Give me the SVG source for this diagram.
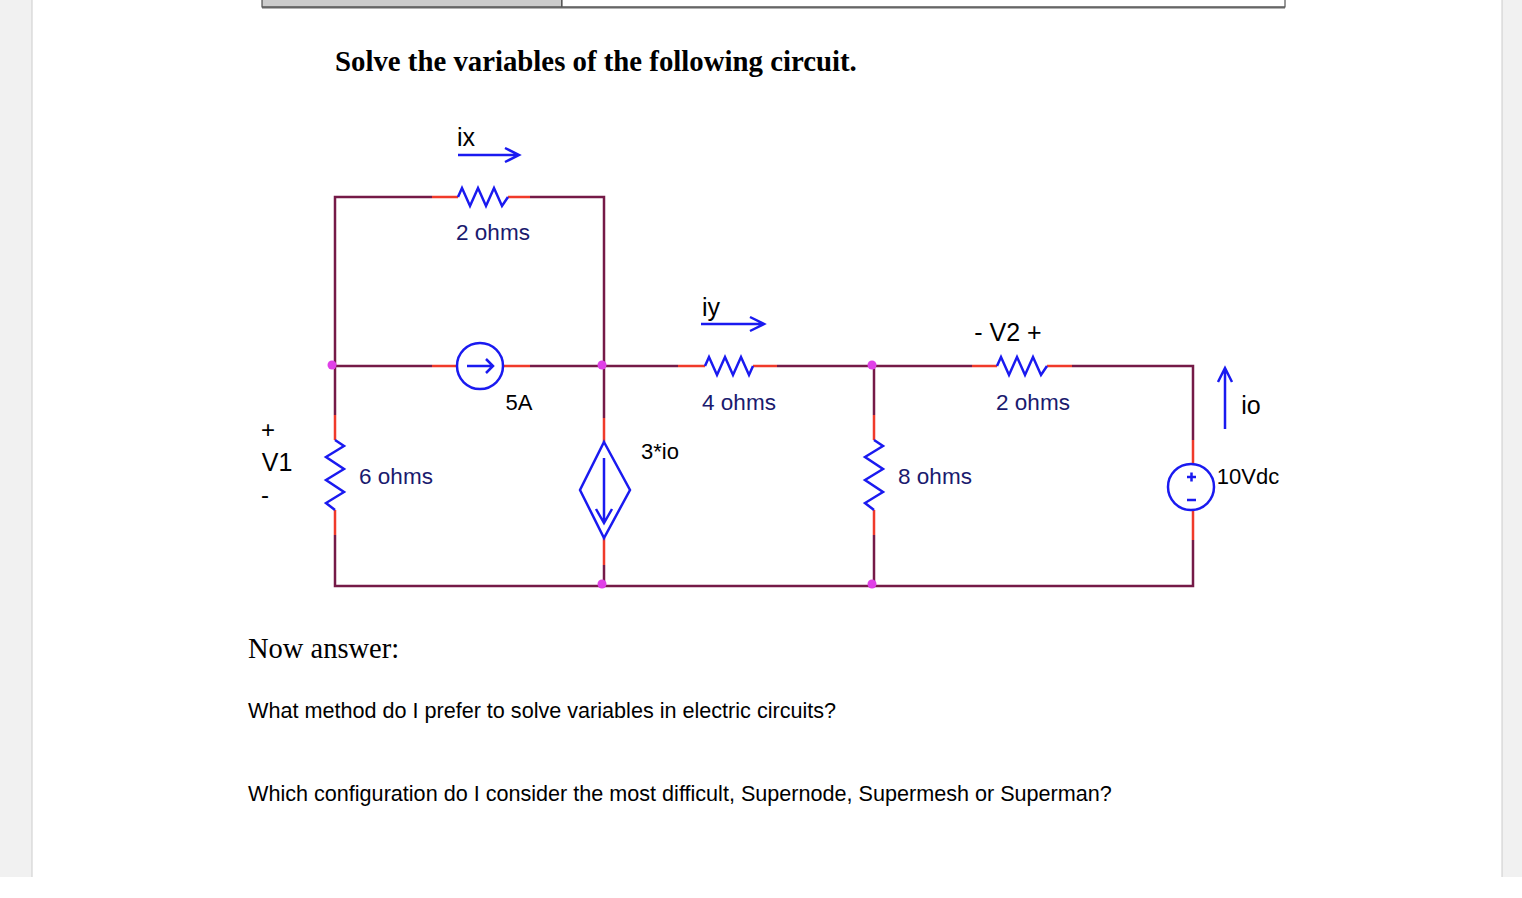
<svg xmlns="http://www.w3.org/2000/svg" width="1522" height="898" viewBox="0 0 1522 898">
<style>
.w{stroke:#751a47;stroke-width:2.5;fill:none}
.l{stroke:#f03a2a;stroke-width:2.5;fill:none}
.b{stroke:#1a1af0;stroke-width:2.5;fill:none}
.lb{font-family:"Liberation Sans",Arial,sans-serif;font-size:22.5px;fill:#1a1a6e}
.k{font-family:"Liberation Sans",Arial,sans-serif;fill:#000}
.d{fill:#e040e8}
</style>
<rect width="1522" height="898" fill="#fff"/>
<rect x="0" y="0" width="32" height="877" fill="#f1f1f1"/>
<rect x="1502" y="0" width="20" height="877" fill="#f1f1f1"/>
<line x1="32" y1="0" x2="32" y2="877" stroke="#ccc"/>
<line x1="1502" y1="0" x2="1502" y2="877" stroke="#ccc"/>
<rect x="262" y="-2" width="300" height="9" fill="#ccc" stroke="#333"/>
<rect x="562" y="-2" width="723" height="9" fill="#fff" stroke="#333"/>
<line x1="262" y1="7.5" x2="1285" y2="7.5" stroke="#666" stroke-width="2"/>
<text x="335" y="71" font-family="Liberation Serif,serif" font-weight="bold" font-size="28.8">Solve the variables of the following circuit.</text>
<g id="wires">
<path class="w" d="M432 197H335V415M335 535V586H604V565M604 418V197H530M335 366H432M530 366H678M777 366H972M1072 366H1193V440M1193 540V586H874V535M874 415V366M604 586H874"/>
</g>
<g id="r_top"><path class="l" d="M432 197H458M508 197H530"/><path class="b" d="M458 197l4-9 8 18 8-18 8 18 8-18 8 18 6-9"/><text class="lb" x="493" y="240" text-anchor="middle">2 ohms</text></g>
<g id="ix"><text class="k" x="466" y="146" font-size="25" text-anchor="middle">ix</text><path class="b" d="M458 155H519M505 148l14 7-14 7"/></g>
<g id="isrc"><path class="l" d="M432 366H457M504 366H530"/><circle class="b" cx="480" cy="366" r="23"/><path class="b" d="M467 366H493M486 359l7 7-7 7"/><text class="k" x="519" y="410" font-size="22" text-anchor="middle">5A</text></g>
<g id="r4"><path class="l" d="M678 366H705M753 366H777"/><path class="b" d="M705 366l4-9 8 18 8-18 8 18 8-18 8 18 4-9"/><text class="lb" x="739" y="410" text-anchor="middle">4 ohms</text></g>
<g id="iy"><text class="k" x="711" y="316" font-size="25" text-anchor="middle">iy</text><path class="b" d="M701 324H764M750 317l14 7-14 7"/></g>
<g id="r2"><path class="l" d="M972 366H997M1047 366H1072"/><path class="b" d="M997 366l4-9 8 18 8-18 8 18 8-18 8 18 6-9"/><text class="lb" x="1033" y="410" text-anchor="middle">2 ohms</text><text class="k" x="1008" y="341" font-size="25" text-anchor="middle">- V2 +</text></g>
<g id="r6"><path class="l" d="M335 415V440M335 510V535"/><path class="b" d="M335 440l9 6-18 11 18 12-18 11 18 12-18 11 9 7"/><text class="lb" x="396" y="484" text-anchor="middle">6 ohms</text><text class="k" x="268" y="438" font-size="24" text-anchor="middle">+</text><text class="k" x="277" y="471" font-size="25" text-anchor="middle">V1</text><text class="k" x="265" y="503" font-size="24" text-anchor="middle">-</text></g>
<g id="dep"><path class="l" d="M604 418V442M604 538V565"/><path class="b" d="M604 442L630 490 604 538 580 490Z"/><path class="b" d="M604 458V523M596 509l8 14 8-14"/><text class="k" x="660" y="459" font-size="22" text-anchor="middle">3*io</text></g>
<g id="r8"><path class="l" d="M874 415V440M874 510V535"/><path class="b" d="M874 440l9 6-18 11 18 12-18 11 18 12-18 11 9 7"/><text class="lb" x="935" y="484" text-anchor="middle">8 ohms</text></g>
<g id="vsrc"><path class="l" d="M1193 440V464M1193 510V540"/><circle class="b" cx="1191" cy="487" r="23"/><path class="b" d="M1187 477h9M1191.5 472.5v9M1187 500h9" stroke-width="2"/><text class="k" x="1248" y="484" font-size="22" text-anchor="middle">10Vdc</text></g>
<g id="io"><path class="b" d="M1225 429V368M1218 382l7-14 7 14"/><text class="k" x="1251" y="414" font-size="25" text-anchor="middle">io</text></g>
<g id="dots"><circle class="d" cx="332" cy="365" r="4.5"/><circle class="d" cx="602" cy="365" r="4.5"/><circle class="d" cx="872" cy="365" r="4.5"/><circle class="d" cx="602" cy="584" r="4.5"/><circle class="d" cx="872" cy="584" r="4.5"/></g>
<text x="248" y="658" font-family="Liberation Serif,serif" font-size="28.5">Now answer:</text>
<text class="k" x="248" y="718" font-size="21.6">What method do I prefer to solve variables in electric circuits?</text>
<text class="k" x="248" y="801" font-size="21.6">Which configuration do I consider the most difficult, Supernode, Supermesh or Superman?</text>
</svg>
